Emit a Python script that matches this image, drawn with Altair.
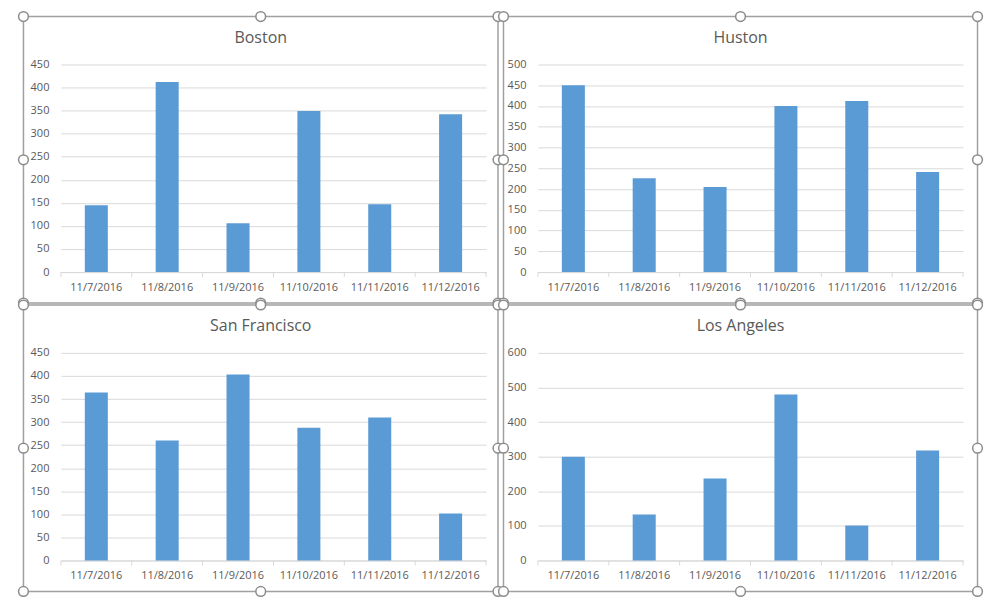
import altair as alt
import pandas as pd

dates = ["11/7/2016", "11/8/2016", "11/9/2016", "11/10/2016", "11/11/2016", "11/12/2016"]
boston = [145, 412, 106, 349, 147, 342]
huston = [450, 226, 205, 400, 412, 241]
san_francisco = [364, 260, 403, 288, 310, 102]
los_angeles = [300, 133, 237, 480, 101, 318]

W, H = 426, 208
MT, MB = 48, 31
FONT = "Open Sans"
TXT = "#595959"
GRID = "#d9d9d9"
BORDER = "#a0a0a0"
HANDLE = "#8c8c8c"

one = pd.DataFrame({"k": [0]})


def panel(name, values, ymax, step, ml, mr):
    df = pd.DataFrame({"date": dates, "value": values})
    base = alt.Chart(df)
    xscale = alt.Scale(paddingInner=0, paddingOuter=0)
    bars = base.mark_bar(color="#5b9bd5", width=alt.RelativeBandSize(0.325)).encode(
        x=alt.X("date:N", sort=dates, title=None, scale=xscale,
                axis=alt.Axis(labelAngle=0, ticks=False, domainColor=GRID, labelPadding=9,
                              labelColor=TXT, labelFont=FONT, labelFontSize=11, grid=False)),
        y=alt.Y("value:Q", title=None, scale=alt.Scale(domain=[0, ymax], nice=False),
                axis=alt.Axis(values=list(range(0, ymax + 1, step)), ticks=False, domain=False,
                              gridColor=GRID, labelPadding=12, labelColor=TXT,
                              labelFont=FONT, labelFontSize=11)),
    )
    ticks = base.mark_rule(color=GRID).encode(
        x=alt.X("date:N", sort=dates, bandPosition=0),
        y=alt.value(H), y2=alt.value(H + 5),
    )
    edge = alt.Chart(one).mark_rule(color=GRID).encode(
        x=alt.value(W), y=alt.value(H), y2=alt.value(H + 5)
    )
    x0, x1, y0, y1 = -ml, W + mr, -MT, H + MB
    frame = alt.Chart(one).mark_rect(
        filled=False, stroke=BORDER, strokeWidth=1.5, cornerRadius=0
    ).encode(x=alt.value(x0), x2=alt.value(x1), y=alt.value(y0), y2=alt.value(y1))
    handles = []
    for hx in (x0, (x0 + x1) / 2, x1):
        for hy in (y0, (y0 + y1) / 2, y1):
            if hx == (x0 + x1) / 2 and hy == (y0 + y1) / 2:
                continue
            handles.append(
                alt.Chart(one).mark_point(shape="circle", size=95, filled=True, fill="white",
                                          stroke=HANDLE, strokeWidth=1.5, opacity=1)
                .encode(x=alt.value(hx), y=alt.value(hy))
            )
    return alt.layer(frame, bars, ticks, edge, *handles).properties(
        width=W, height=H,
        title=alt.Title(name, frame="bounds", anchor="middle", offset=-37, fontSize=16,
                        font=FONT, color=TXT, fontWeight="normal"),
    )


chart = alt.concat(
    panel("Boston", boston, 450, 50, 37.5, 12),
    panel("Huston", huston, 500, 50, 34.5, 14.5),
    panel("San Francisco", san_francisco, 450, 50, 37.5, 12),
    panel("Los Angeles", los_angeles, 600, 100, 34.5, 14.5),
    columns=2, bounds="flush", spacing={"row": 81, "column": 52},
).properties(
    padding={"left": 7, "top": 0, "right": 0, "bottom": 0}
).configure_view(stroke=None)

chart.save("out.html", embed_options={"renderer": "svg", "actions": False})
